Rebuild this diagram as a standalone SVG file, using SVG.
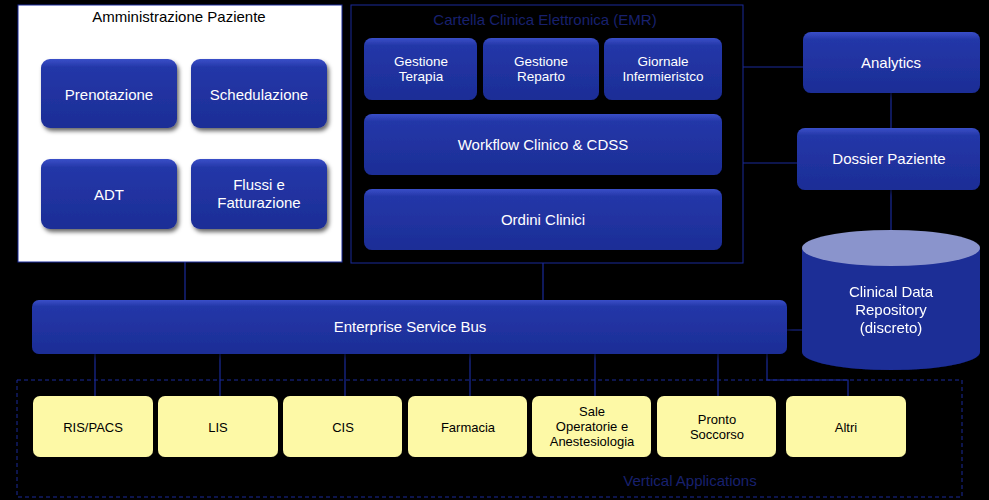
<svg xmlns="http://www.w3.org/2000/svg" width="989" height="500" viewBox="0 0 989 500">
<defs>
<linearGradient id="bg" x1="0" y1="0" x2="0" y2="1"><stop offset="0" stop-color="#3a4fc8"/><stop offset="0.12" stop-color="#2437a8"/><stop offset="1" stop-color="#1c2d96"/></linearGradient>
<filter id="sh" x="-10%" y="-10%" width="120%" height="130%"><feDropShadow dx="2" dy="3" stdDeviation="2" flood-color="#000" flood-opacity="0.6"/></filter>
<style>
.b{fill:url(#bg);filter:url(#sh)}
.y{fill:#fdf9a6;filter:url(#sh)}
.t{font-family:"Liberation Sans",Arial,sans-serif;fill:#fff;text-anchor:middle;font-size:15px}
.s{font-size:13.5px}
.k{fill:#000;font-size:13px}
.c{stroke:#1a2a99;stroke-width:1.2;fill:none}
</style>
</defs>
<rect width="989" height="500" fill="#000"/>
<g id="connectors">
<path class="c" d="M185 262V300M543 263V300M743 67H803M743 163H797M891 93V230M787 330H802M95 354V396M220 354V396M345 354V396M470 354V396M595 354V396M718 354V396M767 354V380H848V396"/>
</g>
<g id="admin">
<rect x="18" y="5" width="324" height="257" fill="#fff" stroke="#1a2a99"/>
<text class="t" x="179" y="22" fill="#000" style="fill:#000">Amministrazione Paziente</text>
</g>
<g id="prenotazione"><rect class="b" x="41" y="59" width="136" height="69" rx="9"/><text class="t" x="109" y="100">Prenotazione</text></g>
<g id="schedulazione"><rect class="b" x="191" y="59" width="136" height="69" rx="9"/><text class="t" x="259" y="100">Schedulazione</text></g>
<g id="adt"><rect class="b" x="41" y="159" width="136" height="70" rx="9"/><text class="t" x="109" y="200">ADT</text></g>
<g id="flussi"><rect class="b" x="191" y="159" width="136" height="70" rx="9"/><text class="t" x="259" y="190">Flussi e</text><text class="t" x="259" y="208">Fatturazione</text></g>
<g id="emr">
<rect x="351" y="5" width="392" height="258" fill="#000" stroke="#1a2a99"/>
<text class="t" x="545" y="25" style="fill:#18206e">Cartella Clinica Elettronica (EMR)</text>
</g>
<g id="terapia"><rect class="b" x="364" y="38" width="113" height="62" rx="8"/><text class="t s" x="421" y="66">Gestione</text><text class="t s" x="421" y="81">Terapia</text></g>
<g id="reparto"><rect class="b" x="483" y="38" width="116" height="62" rx="8"/><text class="t s" x="541" y="66">Gestione</text><text class="t s" x="541" y="81">Reparto</text></g>
<g id="giornale"><rect class="b" x="604" y="38" width="118" height="62" rx="8"/><text class="t s" x="663" y="66">Giornale</text><text class="t s" x="663" y="81">Infermieristco</text></g>
<g id="workflow"><rect class="b" x="364" y="114" width="358" height="61" rx="8"/><text class="t" x="543" y="150">Workflow Clinico &amp; CDSS</text></g>
<g id="ordini"><rect class="b" x="364" y="189" width="358" height="61" rx="8"/><text class="t" x="543" y="225">Ordini Clinici</text></g>
<g id="analytics"><rect class="b" x="803" y="32" width="177" height="61" rx="8"/><text class="t" x="891" y="68">Analytics</text></g>
<g id="dossier"><rect class="b" x="797" y="128" width="183" height="62" rx="8"/><text class="t" x="889" y="164">Dossier Paziente</text></g>
<g id="cdr" filter="url(#sh)">
<path d="M802 248V352A89 18 0 0 0 980 352V248Z" fill="#1c2d96"/>
<ellipse cx="891" cy="248" rx="89" ry="18" fill="#8a94cc"/>
<text class="t" x="891" y="297">Clinical Data</text><text class="t" x="891" y="315">Repository</text><text class="t" x="891" y="333">(discreto)</text>
</g>
<g id="esb"><rect class="b" x="32" y="300" width="755" height="54" rx="7"/><text class="t" x="410" y="332">Enterprise Service Bus</text></g>
<g id="vertical">
<rect x="17" y="380" width="945" height="117" fill="none" stroke="#1a2a99" stroke-dasharray="4,3"/>
<text class="t" x="690" y="486" style="fill:#18206e">Vertical Applications</text>
</g>
<g id="rispacs"><rect class="y" x="33" y="396" width="120" height="61" rx="7"/><text class="t k" x="93" y="432">RIS/PACS</text></g>
<g id="lis"><rect class="y" x="158" y="396" width="120" height="61" rx="7"/><text class="t k" x="218" y="432">LIS</text></g>
<g id="cis"><rect class="y" x="283" y="396" width="119" height="61" rx="7"/><text class="t k" x="343" y="432">CIS</text></g>
<g id="farmacia"><rect class="y" x="408" y="396" width="119" height="61" rx="7"/><text class="t k" x="468" y="432">Farmacia</text></g>
<g id="sale"><rect class="y" x="532" y="396" width="119" height="61" rx="7"/><text class="t k" x="592" y="416">Sale</text><text class="t k" x="592" y="431">Operatorie e</text><text class="t k" x="592" y="446">Anestesiologia</text></g>
<g id="pronto"><rect class="y" x="657" y="396" width="119" height="61" rx="7"/><text class="t k" x="717" y="424">Pronto</text><text class="t k" x="717" y="439">Soccorso</text></g>
<g id="altri"><rect class="y" x="786" y="396" width="120" height="61" rx="7"/><text class="t k" x="846" y="432">Altri</text></g>
</svg>
